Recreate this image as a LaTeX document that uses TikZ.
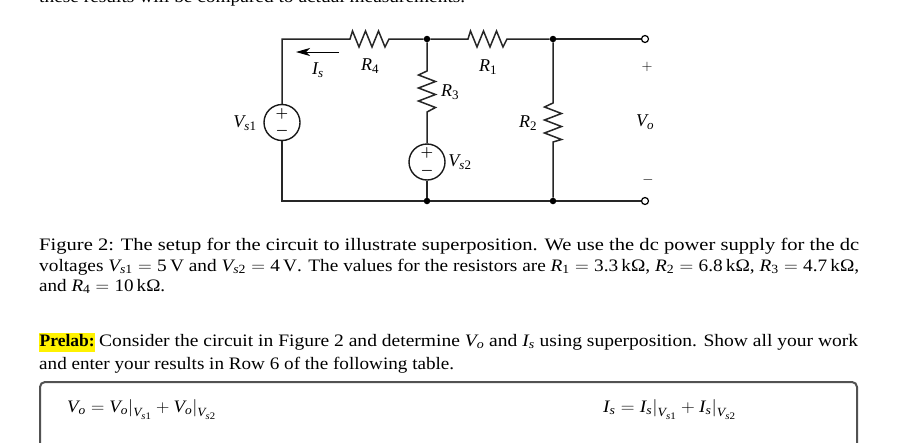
\documentclass[tikz,border=0pt]{standalone}
\usepackage[no-math]{fontspec}
\usepackage{graphicx}
\setmainfont[NFSSFamily=lsf]{Liberation Serif}
\usetikzlibrary{arrows.meta}
\DeclareSymbolFont{letters}{TU}{lsf}{m}{it}
\DeclareSymbolFont{lsfup}{TU}{lsf}{m}{n}
\DeclareMathSymbol{0}{\mathalpha}{lsfup}{`0}
\DeclareMathSymbol{1}{\mathalpha}{lsfup}{`1}
\DeclareMathSymbol{2}{\mathalpha}{lsfup}{`2}
\DeclareMathSymbol{3}{\mathalpha}{lsfup}{`3}
\DeclareMathSymbol{4}{\mathalpha}{lsfup}{`4}
\DeclareMathSymbol{5}{\mathalpha}{lsfup}{`5}
\DeclareMathSymbol{6}{\mathalpha}{lsfup}{`6}
\DeclareMathSymbol{7}{\mathalpha}{lsfup}{`7}
\DeclareMathSymbol{8}{\mathalpha}{lsfup}{`8}
\DeclareMathSymbol{9}{\mathalpha}{lsfup}{`9}
\DeclareMathSymbol{.}{\mathalpha}{lsfup}{`.}
\DeclareMathSizes{17.5}{17.5}{12.5}{10}
\DeclareMathSizes{18}{18}{13}{10}
\newcommand{\bodyfs}{\fontsize{17.5}{20}\selectfont}
\newcommand{\fitw}[2]{\resizebox{#1pt}{\height}{\bodyfs #2}}
\newcommand{\kohm}{\,\mbox{kΩ}}
\newcommand{\volt}{\,\mbox{V}}
\tikzset{
  x=1pt,y=-1pt,
  wire/.style={line width=1.5pt,black!85,line join=miter},
  src/.style={circle,draw=black!90,line width=1.4pt,fill=white,minimum size=36pt,inner sep=0pt,align=center,font=\fontsize{15}{17.5}\selectfont\boldmath},
  junc/.style={circle,fill=black,inner sep=0pt,minimum size=6.5pt},
  term/.style={circle,draw=black,line width=1.2pt,fill=white,inner sep=0pt,minimum size=7pt},
  lab/.style={inner sep=0pt,font=\fontsize{18}{20}\selectfont},
  sgn/.style={inner sep=0pt,font=\fontsize{15}{18}\selectfont},
  txt/.style={anchor=base west,inner sep=0pt},
  box/.style={line width=2pt,draw=black!68,rounded corners=5pt}
}
\begin{document}
\begin{tikzpicture}
\clip (0,0) rectangle (912,442);
\fill[white] (0,0) rectangle (912,442);
% circuit points
\coordinate (tl) at (282,39);
\coordinate (bl) at (282,201);
\coordinate (r4a) at (350,39);
\coordinate (r4b) at (389,39);
\coordinate (r1a) at (468,39);
\coordinate (r1b) at (507,39);
\coordinate (r3a) at (427,71);
\coordinate (r3b) at (427,112);
\coordinate (r2a) at (553,103);
\coordinate (r2b) at (553,142);
\coordinate (arrs) at (339,52);
\coordinate (arre) at (296,52);
\node[src] (vs1) at (282,122.5) {$+$\\[0pt]$-$};
\node[src] (vs2) at (427,162) {$+$\\[0pt]$-$};
\node[junc] (j1) at (427,39) {};
\node[junc] (j2) at (553,39) {};
\node[junc] (b1) at (427,201) {};
\node[junc] (b2) at (553,201) {};
% wires
\draw[wire] (vs1.north) -- (tl) -- (r4a) -- ++(2.5,-8) -- ++(6.5,16) -- ++(6.5,-16) -- ++(6.5,16) -- ++(6.5,-16) -- ++(6.5,16) -- (r4b) -- (j1);
\draw[wire] (j1) -- (r1a) -- ++(2.5,-8) -- ++(6.5,16) -- ++(6.5,-16) -- ++(6.5,16) -- ++(6.5,-16) -- ++(6.5,16) -- (r1b) -- (j2);
\draw[wire] (j1) -- (r3a) -- ++(-8.5,4) -- ++(17,6.5) -- ++(-17,6.5) -- ++(17,6.5) -- ++(-17,6.5) -- ++(17,6.5) -- (r3b) -- (vs2.north);
\draw[wire] (j2) -- (r2a) -- ++(-8.5,4) -- ++(17,6.5) -- ++(-17,6.5) -- ++(17,6.5) -- ++(-17,6.5) -- ++(17,6.5) -- (r2b) -- (b2);
\draw[wire] (vs2.south) -- (b1);
\draw[wire] (vs1.south) -- (bl) -- (b1) -- (b2);
\node[term] (t1) at (645,39) {};
\node[term] (t2) at (645,201) {};
\draw[wire] (j2) -- (t1);
\draw[wire] (b2) -- (t2);
\draw[line width=1pt,-{Stealth[length=14pt,width=8pt,inset=4pt]}] (arrs) -- (arre);
% labels
\node[lab] (lis) at (318,70) {$I_s$};
\node[lab] (lr4) at (370,66) {$R_4$};
\node[lab] (lr3) at (450,92) {$R_3$};
\node[lab] (lvs2) at (460,162) {$V_{s2}$};
\node[lab] (lr1) at (488,67) {$R_1$};
\node[lab] (lr2) at (528,123) {$R_2$};
\node[lab] (lvo) at (645,122) {$V_o$};
\node[lab] (lvs1) at (245,123) {$V_{s1}$};
\node[sgn] (lp) at (647,67) {$+$};
\node[sgn] (lm) at (648,180) {$-$};
% text
\node[txt] (top) at (39,2) {\fitw{426}{these results will be compared to actual measurements.}};
\node[txt] (c1) at (39,250) {\fitw{820}{Figure 2: The setup for the circuit to illustrate superposition. We use the dc power supply for the dc}};
\node[txt] (c2) at (39,271) {\fitw{820}{voltages $V_{s1}=5\volt$ and $V_{s2}=4\volt$. The values for the resistors are $R_1=3.3\kohm$, $R_2=6.8\kohm$, $R_3=4.7\kohm$,}};
\node[txt] (c3) at (39,291) {\fitw{126}{and $R_4=10\kohm$.}};
\fill[yellow] (39,332.5) rectangle (95,352);
\node[txt] (prl) at (39.5,346) {\fitw{55}{\textbf{Prelab:}}};
\node[txt] (p1l) at (99,346) {\fitw{759}{Consider the circuit in Figure 2 and determine $V_o$ and $I_s$ using superposition. Show all your work}};
\node[txt] (p2l) at (39,369) {\fitw{415}{and enter your results in Row 6 of the following table.}};
\coordinate (bxa) at (40,450);
\coordinate (bxb) at (40,382);
\coordinate (bxc) at (857,382);
\coordinate (bxd) at (857,450);
\draw[box] (bxa) -- (bxb) -- (bxc) -- (bxd);
\node[txt] (e1) at (67,412) {\fitw{149}{$V_o=V_o\big|_{V_{s1}}+V_o\big|_{V_{s2}}$}};
\node[txt] (e2) at (603,412) {\fitw{133}{$I_s=I_s\big|_{V_{s1}}+I_s\big|_{V_{s2}}$}};
\end{tikzpicture}
\end{document}
